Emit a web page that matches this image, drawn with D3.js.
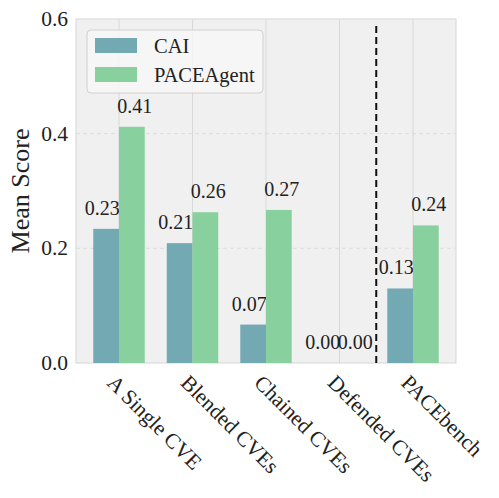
<!DOCTYPE html>
<html lang="en">
  <head>
    <script src="https://cdn.jsdelivr.net/npm/d3@7"></script>
    <style>
      body {
        margin: 0;
        background: #fff;
      }
      svg {
        font-family: 'Liberation Serif', 'Times New Roman', serif;
      }
    </style>
  </head>
  <body>
    <svg></svg>
  </body>
  <script>

    // Data
    const categories = ['A Single CVE', 'Blended CVEs', 'Chained CVEs', 'Defended CVEs', 'PACEbench'];
    const seriesNames = ['CAI', 'PACEAgent'];
    const caiValues = [0.234, 0.209, 0.067, 0.0, 0.13];
    const paceValues = [0.412, 0.263, 0.267, 0.0, 0.24];
    const yTicks = [0.0, 0.2, 0.4, 0.6];
    const colors = ['#73a9b3', '#88d19f'];

    // Initialize svg
    const width = 499;
    const height = 498;
    const margin = { top: 19, right: 43, bottom: 135, left: 76 };
    const svg = d3.select('svg')
        .attr('width', width)
        .attr('height', height);

    const barW = 0.35;
    const x = d3.scaleLinear()
        .domain([-barW - 0.235, categories.length - 1 + barW + 0.235])
        .range([margin.left, width - margin.right]);
    const y = d3.scaleLinear()
        .domain([0, 0.6])
        .range([height - margin.bottom, margin.top]);

    // Plot background
    svg.append('rect')
        .attr('x', x.range()[0])
        .attr('y', y.range()[1])
        .attr('width', x.range()[1] - x.range()[0])
        .attr('height', y.range()[0] - y.range()[1])
        .attr('fill', '#f0f0f0')
        .attr('stroke', '#d6d6d6')
        .attr('stroke-width', 1);

    // Grid lines
    svg.append('g')
      .selectAll('line')
        .data(yTicks.slice(1, -1))
      .enter().append('line')
        .attr('x1', x.range()[0])
        .attr('x2', x.range()[1])
        .attr('y1', d => y(d))
        .attr('y2', d => y(d))
        .attr('stroke', '#dcdcdc')
        .attr('stroke-dasharray', '4,3');

    svg.append('g')
      .selectAll('line')
        .data(categories)
      .enter().append('line')
        .attr('x1', (d, i) => x(i))
        .attr('x2', (d, i) => x(i))
        .attr('y1', y.range()[0])
        .attr('y2', y.range()[1])
        .attr('stroke', '#d8d8d8');

    // Bars
    const series = [caiValues, paceValues];
    series.forEach((vals, s) => {
      const off = s === 0 ? -barW : 0;
      svg.append('g')
        .selectAll('rect')
          .data(vals)
        .enter().append('rect')
          .attr('x', (d, i) => x(i + off))
          .attr('width', x(barW) - x(0))
          .attr('y', d => y(d))
          .attr('height', d => y(0) - y(d))
          .attr('fill', colors[s]);

      // value labels (the two zero labels just touch, as in the source)
      svg.append('g')
        .selectAll('text')
          .data(vals)
        .enter().append('text')
          .attr('x', (d, i) => x(i + off + barW / 2) + (s === 0 ? -4 : 3))
          .attr('y', d => y(d) - 14)
          .attr('text-anchor', 'middle')
          .attr('font-size', 20)
          .attr('fill', '#222')
          .text(d => d.toFixed(2));
    });

    // Divider
    svg.append('line')
        .attr('x1', x(3.5))
        .attr('x2', x(3.5))
        .attr('y1', y(0))
        .attr('y2', y(0.6) + 4)
        .attr('stroke', '#111')
        .attr('stroke-width', 2)
        .attr('stroke-dasharray', '7,4');

    // Y axis
    svg.append('g')
      .selectAll('text')
        .data(yTicks)
      .enter().append('text')
        .attr('x', margin.left - 8)
        .attr('y', d => y(d) + 7)
        .attr('text-anchor', 'end')
        .attr('font-size', 21.5)
        .attr('fill', '#222')
        .text(d => d.toFixed(1));

    svg.append('text')
        .attr('transform', 'translate(29,' + (y(0.3)) + ') rotate(-90)')
        .attr('text-anchor', 'middle')
        .attr('font-size', 26)
        .attr('fill', '#222')
        .text('Mean Score');

    // X axis labels
    svg.append('g')
      .selectAll('text')
        .data(categories)
      .enter().append('text')
        .attr('transform', (d, i) => 'translate(' + (x(i) - 13) + ',' + (y(0) + 21) + ') rotate(45)')
        .attr('text-anchor', 'start')
        .attr('font-size', 21.5)
        .attr('fill', '#222')
        .text(d => d);

    // Legend
    const legend = svg.append('g')
        .attr('transform', 'translate(87,30)');
    legend.append('rect')
        .attr('width', 176)
        .attr('height', 63)
        .attr('rx', 4)
        .attr('fill', '#f7f7f7')
        .attr('fill-opacity', 0.85)
        .attr('stroke', '#d0d0d0');
    seriesNames.forEach((name, i) => {
      legend.append('rect')
          .attr('x', 8)
          .attr('y', 8 + i * 29)
          .attr('width', 42)
          .attr('height', 15)
          .attr('fill', colors[i]);
      legend.append('text')
          .attr('x', 67)
          .attr('y', 23 + i * 29)
          .attr('font-size', 20.5)
          .attr('fill', '#222')
          .text(name);
    });
  </script>
</html>
